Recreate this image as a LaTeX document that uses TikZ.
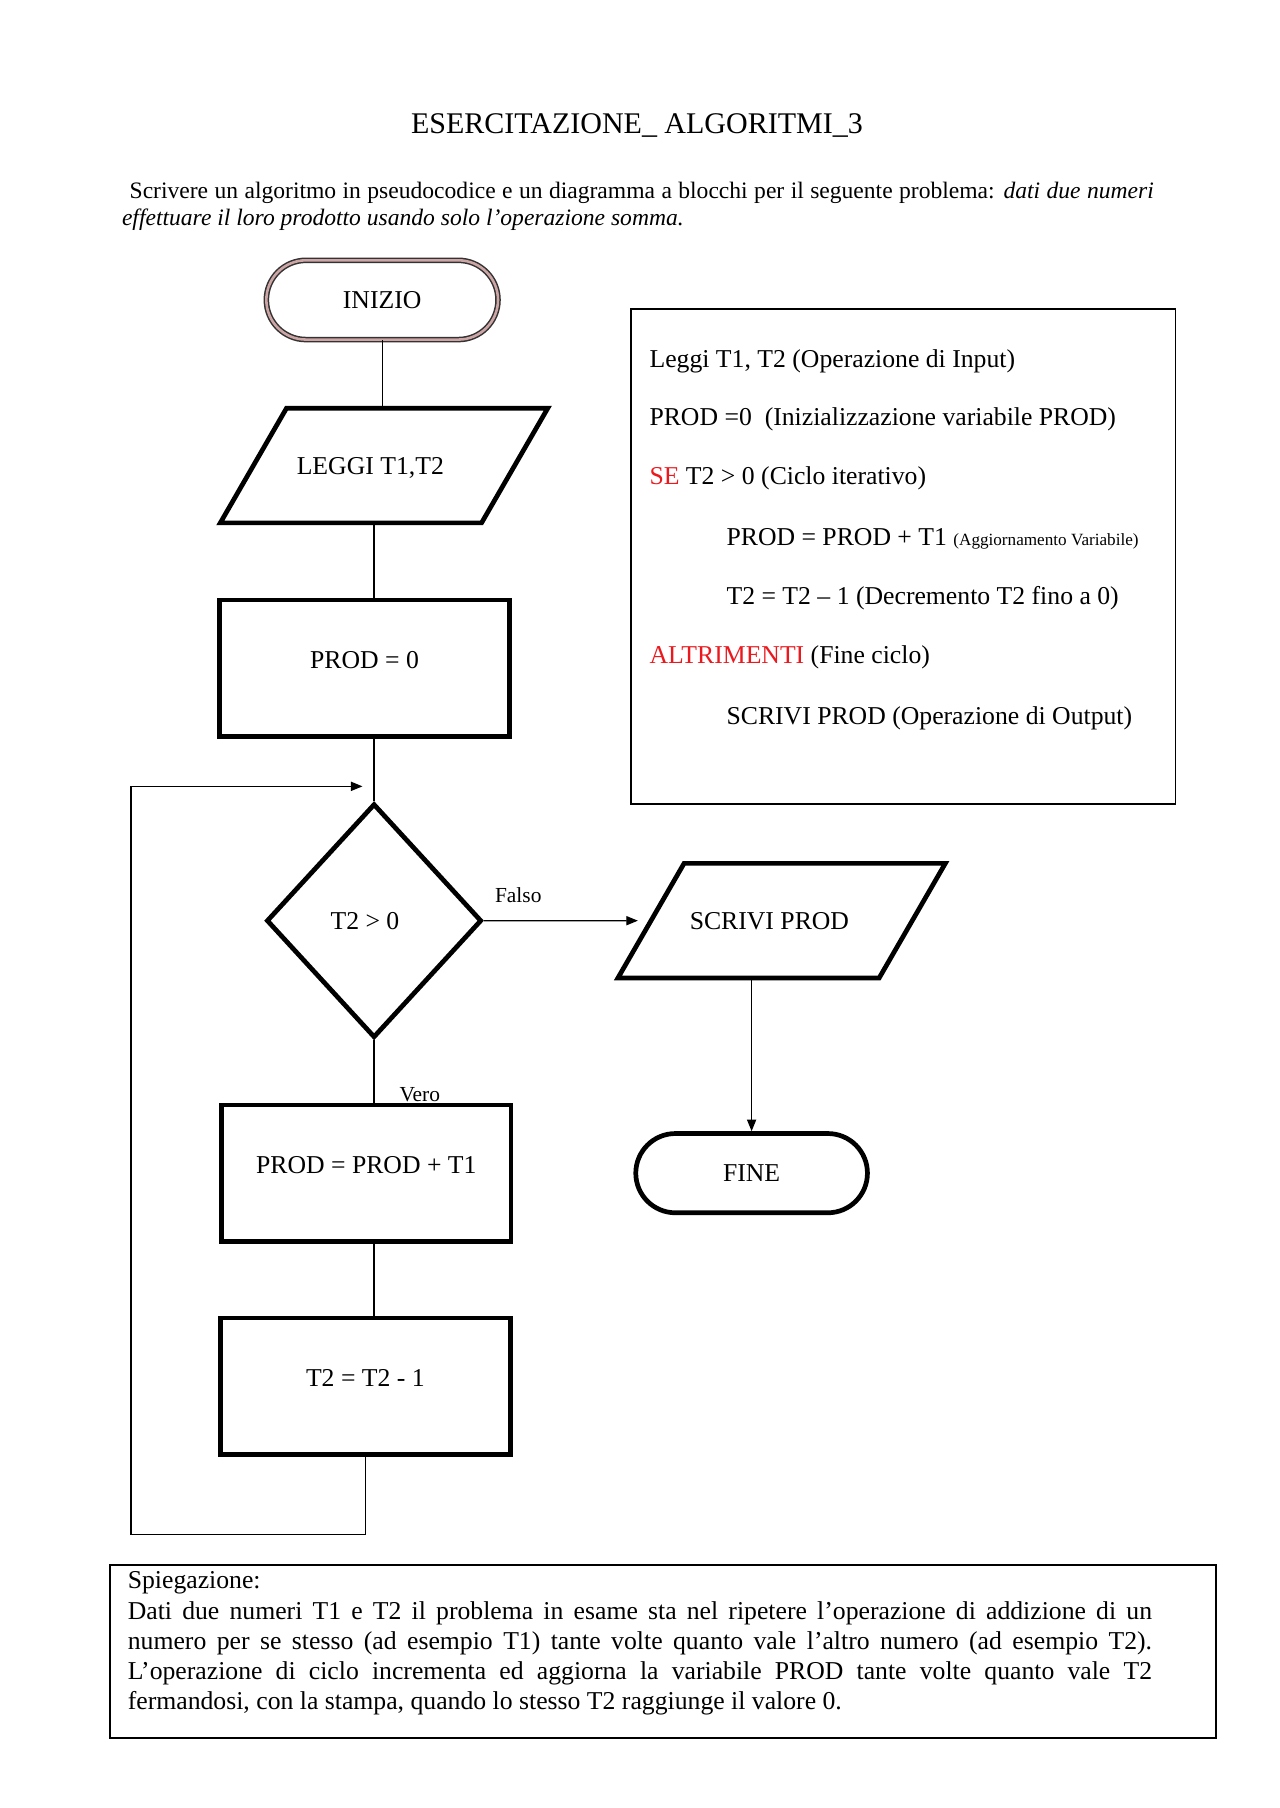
\documentclass[tikz,border=0pt]{standalone}
\usepackage{fontspec}
\setmainfont{Liberation Serif}
\usetikzlibrary{shapes.geometric,shapes.misc,arrows.meta}
\definecolor{bordoinizio}{RGB}{205,165,165}
\definecolor{rossose}{RGB}{235,25,30}

\begin{document}
\begin{tikzpicture}[x=0.019cm, y=-0.019cm,
  testo/.style={inner sep=0pt, anchor=base west, font=\fontsize{12}{14}\selectfont},
  blocco/.style={rectangle, draw, line width=2.2pt, minimum width=4.75cm, minimum height=2.24cm, inner sep=0pt, text height=0.3cm, text depth=0.3cm, font=\fontsize{12}{14}\selectfont},
  dato/.style={trapezium, trapezium left angle=60, trapezium right angle=120, draw, line width=2.2pt, inner sep=0pt, text height=1.08cm, text depth=0.8cm, font=\fontsize{12}{14}\selectfont},
  decisione/.style={diamond, draw, line width=2.2pt, minimum width=3.53cm, minimum height=3.84cm, inner sep=0pt, font=\fontsize{12}{14}\selectfont},
  terminale/.style={rounded rectangle, draw, minimum width=3.8cm, minimum height=1.3cm, inner sep=0pt, font=\fontsize{12}{14}\selectfont},
  etich/.style={inner sep=0pt, anchor=base, font=\fontsize{10}{12}\selectfont},
  linea/.style={line width=0.6pt},
  freccia/.style={line width=0.6pt, -{Triangle[length=1.9mm, width=1.5mm]}}]
\useasboundingbox (0,0) rectangle (1105.26,1561.18);

\node[inner sep=0pt, anchor=base, font=\fontsize{14}{16}\selectfont] (titolo) at (550,115) {ESERCITAZIONE\_ ALGORITMI\_3};
\node[inner sep=0pt, anchor=base west, font=\fontsize{11}{13}\selectfont] (testo1) at (111.6,171.6) {\makebox[16.8cm][s]{Scrivere un algoritmo in pseudocodice e un diagramma a blocchi per il seguente problema: \textit{dati due numeri}}};
\node[inner sep=0pt, anchor=base west, font=\fontsize{11}{13}\selectfont] (testo2) at (105,195) {\textit{effettuare il loro prodotto usando solo l’operazione somma.}};

% diagramma a blocchi
\node[terminale, draw=black!80, line width=0.7pt, double=bordoinizio, double distance=1.2pt] (inizio) at (330,259) {INIZIO};
\node[dato] (leggi) at (331.6,402) {\makebox[3.2cm]{LEGGI T1,T2\hspace{0.45cm}}};
\node[blocco] (prod0) at (314.8,577) {PROD = 0};
\node[decisione] (dia) at (323,795) {T2 > 0\hspace*{0.3cm}};
\node[dato] (scrivi) at (674.9,795) {\makebox[3.2cm]{SCRIVI PROD\hspace{0.4cm}}};
\node[terminale, line width=2.2pt] (fine) at (649,1013) {FINE};
\node[blocco] (somma) at (316.3,1013) {PROD = PROD + T1};
\node[blocco] (decr) at (315.5,1197) {T2 = T2 - 1};

\coordinate (angolo) at (113,1325);
\coordinate (ritorno) at (313,679);

\draw[linea] (inizio.south) -- (inizio.south |- leggi.north);
\draw[linea] (leggi.south -| dia.north) -- (prod0.north -| dia.north);
\draw[linea] (prod0.south -| dia.north) -- (dia.north);
\draw[linea] (dia.south) -- (somma.north -| dia.south);
\draw[linea] (somma.south -| dia.south) -- (decr.north -| dia.south);
\draw[freccia] (decr.south) |- (angolo) |- (ritorno);
\draw[freccia, shorten >=1.7mm] (dia.east) -- (scrivi.west);
\draw[freccia] (fine.north |- scrivi.south) -- (fine.north);
\node[etich] (falso) at (447.5,779) {Falso};
\node[etich] (vero) at (362.5,951) {Vero};

% pseudocodice
\draw[line width=0.9pt] (545,267) rectangle (1015,694);
\node[testo] (p1) at (560.5,317) {Leggi T1, T2 (Operazione di Input)};
\node[testo] (p2) at (560.5,367) {PROD =0\ \ (Inizializzazione variabile PROD)};
\node[testo] (p3) at (560.5,418) {\textcolor{rossose}{SE} T2 > 0 (Ciclo iterativo)};
\node[testo] (p4) at (627,471) {PROD = PROD + T1 {\fontsize{8}{9}\selectfont(Aggiornamento Variabile)}};
\node[testo] (p5) at (627,522) {T2 = T2 – 1 (Decremento T2 fino a 0)};
\node[testo] (p6) at (560.5,573) {\textcolor{rossose}{ALTRIMENTI} (Fine ciclo)};
\node[testo] (p7) at (627,626) {SCRIVI PROD (Operazione di Output)};

% spiegazione
\draw[line width=0.9pt] (95,1351) rectangle (1050,1501);
\node[testo] (s0) at (110,1372) {Spiegazione:};
\node[testo] (s1) at (110,1398) {\makebox[16.8cm][s]{Dati due numeri T1 e T2 il problema in esame sta nel ripetere l’operazione di addizione di un}};
\node[testo] (s2) at (110,1424) {\makebox[16.8cm][s]{numero per se stesso (ad esempio T1) tante volte quanto vale l’altro numero (ad esempio T2).}};
\node[testo] (s3) at (110,1450) {\makebox[16.8cm][s]{L’operazione di ciclo incrementa ed aggiorna la variabile PROD tante volte quanto vale T2}};
\node[testo] (s4) at (110,1476) {fermandosi, con la stampa, quando lo stesso T2 raggiunge il valore 0.};
\end{tikzpicture}
\end{document}
